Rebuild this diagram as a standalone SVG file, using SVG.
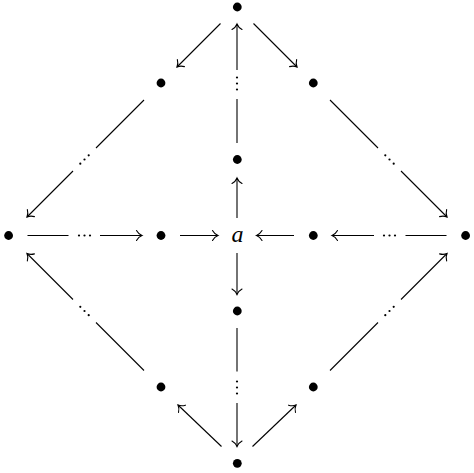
<svg xmlns="http://www.w3.org/2000/svg" width="474" height="473" viewBox="0 0 474 473">
<defs>
<style>
.n{fill:#000}
.e line{stroke:#000;stroke-width:1.1;fill:none}
.e .a{marker-end:url(#to)}
.d{fill:#000}
.lbl{font-family:"Liberation Serif","DejaVu Serif",serif;font-style:italic;font-size:24px;fill:#000}
</style>
<marker id="to" markerUnits="userSpaceOnUse" viewBox="-7 -7 9 14" refX="0" refY="0" markerWidth="9" markerHeight="14" orient="auto" overflow="visible">
<path d="M-5.5,-5 C-4,-2.3 -1.8,-0.7 0,0 C-1.8,0.7 -4,2.3 -5.5,5" fill="none" stroke="#000" stroke-width="1.1" stroke-linecap="round"/>
</marker>
</defs>
<rect width="474" height="473" fill="#fff"/>
<g id="connectors" class="e">
<line class="a" x1="220.5" y1="23.5" x2="177" y2="67"/>
<line class="a" x1="253.5" y1="23.5" x2="297" y2="67"/>
<line x1="237" y1="143" x2="237" y2="99"/>
<line class="a" x1="237" y1="70" x2="237" y2="24"/>
<line x1="144" y1="100" x2="96" y2="148"/>
<line class="a" x1="73" y1="171" x2="27" y2="217"/>
<line x1="330" y1="100" x2="378" y2="148"/>
<line class="a" x1="401" y1="171" x2="447" y2="217"/>
<line x1="144" y1="370.5" x2="96" y2="322.5"/>
<line class="a" x1="73" y1="299.5" x2="27" y2="253.5"/>
<line x1="330" y1="370.5" x2="378" y2="322.5"/>
<line class="a" x1="401" y1="299.5" x2="447" y2="253.5"/>
<line x1="27.5" y1="235.5" x2="68.5" y2="235.5"/>
<line class="a" x1="100" y1="235.5" x2="142" y2="235.5"/>
<line class="a" x1="180" y1="235.5" x2="218" y2="235.5"/>
<line class="a" x1="237" y1="218" x2="237" y2="178"/>
<line class="a" x1="294" y1="235.5" x2="256.5" y2="235.5"/>
<line class="a" x1="237" y1="253" x2="237" y2="294.5"/>
<line x1="446.5" y1="235.5" x2="405.5" y2="235.5"/>
<line class="a" x1="374" y1="235.5" x2="332" y2="235.5"/>
<line x1="237" y1="328" x2="237" y2="371.5"/>
<line class="a" x1="237" y1="403" x2="237" y2="446.5"/>
<line class="a" x1="221.5" y1="446.5" x2="178" y2="405"/>
<line class="a" x1="252.5" y1="446.5" x2="296" y2="405"/>
<g id="ellipses" stroke="none">
<circle class="d" cx="237" cy="77.5" r="1.1"/><circle class="d" cx="237" cy="83.5" r="1.1"/><circle class="d" cx="237" cy="89.5" r="1.1"/>
<circle class="d" cx="237" cy="381.5" r="1.1"/><circle class="d" cx="237" cy="387.5" r="1.1"/><circle class="d" cx="237" cy="393.5" r="1.1"/>
<circle class="d" cx="79" cy="235.5" r="1.1"/><circle class="d" cx="84.5" cy="235.5" r="1.1"/><circle class="d" cx="90" cy="235.5" r="1.1"/>
<circle class="d" cx="384" cy="235.5" r="1.1"/><circle class="d" cx="389.5" cy="235.5" r="1.1"/><circle class="d" cx="395" cy="235.5" r="1.1"/>
<circle class="d" cx="80.3" cy="163.7" r="1.1"/><circle class="d" cx="84.5" cy="159.5" r="1.1"/><circle class="d" cx="88.7" cy="155.3" r="1.1"/>
<circle class="d" cx="393.7" cy="163.7" r="1.1"/><circle class="d" cx="389.5" cy="159.5" r="1.1"/><circle class="d" cx="385.3" cy="155.3" r="1.1"/>
<circle class="d" cx="80.3" cy="306.8" r="1.1"/><circle class="d" cx="84.5" cy="311" r="1.1"/><circle class="d" cx="88.7" cy="315.2" r="1.1"/>
<circle class="d" cx="393.7" cy="306.8" r="1.1"/><circle class="d" cx="389.5" cy="311" r="1.1"/><circle class="d" cx="385.3" cy="315.2" r="1.1"/>
</g>
</g>
<g id="n-top"><circle class="n" cx="237.3" cy="7" r="4.4"/></g>
<g id="n-ul"><circle class="n" cx="161" cy="83" r="4.4"/></g>
<g id="n-ur"><circle class="n" cx="313.3" cy="83" r="4.4"/></g>
<g id="n-cu"><circle class="n" cx="237.3" cy="159.5" r="4.4"/></g>
<g id="n-left"><circle class="n" cx="8.6" cy="235.5" r="4.4"/></g>
<g id="n-ml"><circle class="n" cx="161" cy="235.5" r="4.4"/></g>
<g id="n-a"><text class="lbl" x="237.5" y="241.8" text-anchor="middle">a</text></g>
<g id="n-mr"><circle class="n" cx="313.3" cy="235.5" r="4.4"/></g>
<g id="n-right"><circle class="n" cx="465.6" cy="235.5" r="4.4"/></g>
<g id="n-cl"><circle class="n" cx="237.3" cy="311" r="4.4"/></g>
<g id="n-ll"><circle class="n" cx="161" cy="387" r="4.4"/></g>
<g id="n-lr"><circle class="n" cx="313.3" cy="387" r="4.4"/></g>
<g id="n-bottom"><circle class="n" cx="237.3" cy="463.3" r="4.4"/></g>
</svg>
